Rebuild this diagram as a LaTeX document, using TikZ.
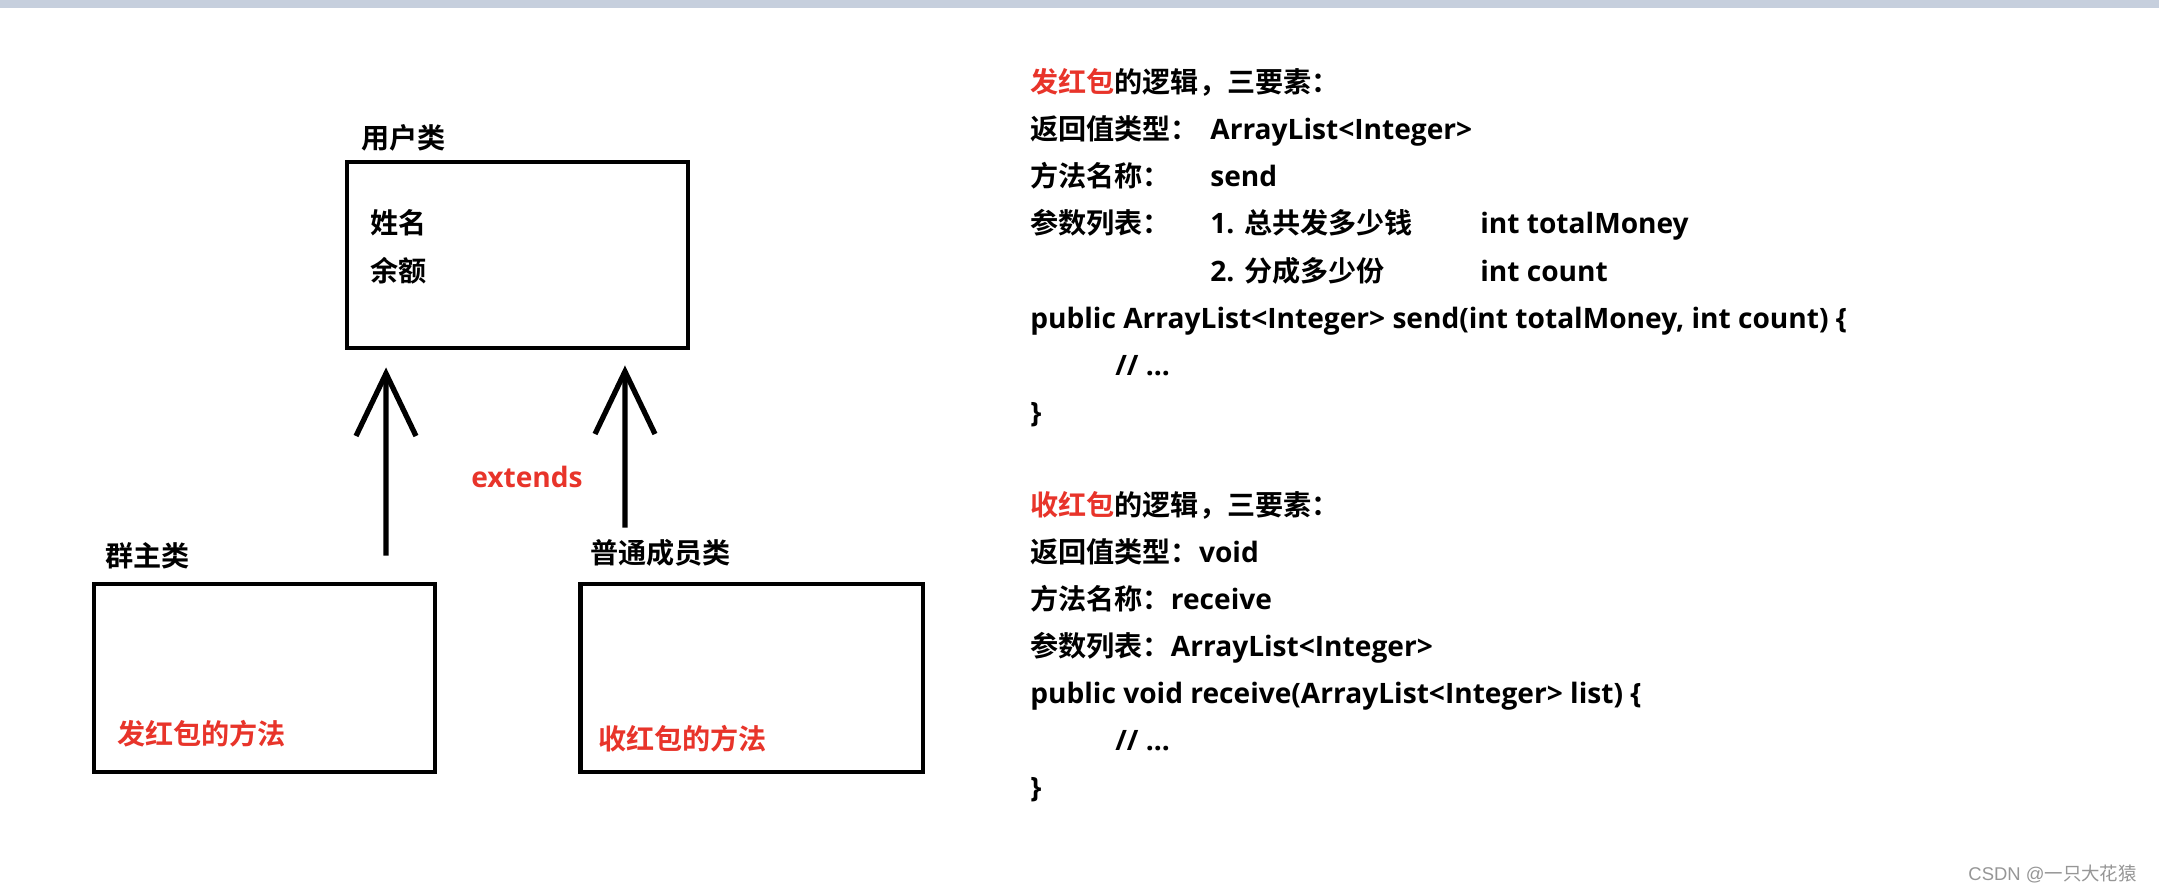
\documentclass[tikz,border=0pt]{standalone}
\usepackage{fontspec}
\setmainfont{Open Sans}
\newfontfamily\zhfont{Noto Sans CJK SC}[BoldFont={Noto Sans CJK SC Bold}]
\newfontfamily\wmfont{Liberation Sans}
\usetikzlibrary{positioning,arrows.meta}

\definecolor{hongred}{RGB}{232,52,42}
\definecolor{topband}{RGB}{198,207,221}
\definecolor{markgray}{RGB}{150,150,150}
\newcommand{\zh}[1]{{\zhfont #1}}

\tikzset{
  classbox/.style={draw, line width=2.8pt, inner sep=0pt},
  classname/.style={anchor=base west, inner sep=0pt},
  extarrow/.style={line width=3pt, -{Straight Barb[length=1.25cm, width=1.2cm]}},
  codeline/.style={anchor=base west, inner sep=0pt}
}

\begin{document}
\begin{tikzpicture}[x=0.02cm, y=-0.02cm, font=\fontsize{16pt}{19pt}\selectfont\bfseries]

\fill[white] (0,0) rectangle (2159,895);
\fill[topband] (0,0) rectangle (2159,8);
\useasboundingbox (0,0) rectangle (2159,895);

\node[classbox, minimum width=6.82cm, minimum height=3.72cm] (user) at (517.5, 255) {};
\node[classbox, minimum width=6.82cm, minimum height=3.76cm] (leader) at (264.5, 678) {};
\node[classbox, minimum width=6.86cm, minimum height=3.76cm] (member) at (751.5, 678) {};

\node[classname] (usertitle) at (361, 149) {\zh{用户类}};
\node[classname] (name) at (370, 234) {\zh{姓名}};
\node[classname] (balance) at (370, 281) {\zh{余额}};
\node[classname] (leadertitle) at (105, 566) {\zh{群主类}};
\node[classname] (membertitle) at (590, 563) {\zh{普通成员类}};
\node[classname, hongred] (sendmethod) at (117, 744) {\zh{发红包的方法}};
\node[classname, hongred] (recvmethod) at (598, 749) {\zh{收红包的方法}};

\draw[extarrow] ([xshift=2.43cm, yshift=0.52cm]leader.north) -- ([xshift=-2.63cm, yshift=-0.34cm]user.south);
\draw[extarrow] ([xshift=-2.53cm, yshift=1.08cm]member.north) -- ([xshift=2.15cm, yshift=-0.3cm]user.south);
\node[hongred] (extends) at (527, 477) {extends};

\def\x{1030}
\def\y{93}

\node[codeline] (s1) at (\x + 0, \y + 0) {\zh{\textcolor{hongred}{发红包}的逻辑，三要素：}};
\node[codeline] (s2) at (\x + 0, \y + 47) {\zh{返回值类型：}};
\node[codeline] (s2v) at (\x + 180, \y + 47) {ArrayList<Integer>};
\node[codeline] (s3) at (\x + 0, \y + 94) {\zh{方法名称：}};
\node[codeline] (s3v) at (\x + 180, \y + 94) {send};
\node[codeline] (s4) at (\x + 0, \y + 141) {\zh{参数列表：}};
\node[codeline] (s4a) at (\x + 180, \y + 141) {1. \zh{总共发多少钱}};
\node[codeline] (s4b) at (\x + 450, \y + 141) {int totalMoney};
\node[codeline] (s5a) at (\x + 180, \y + 188) {2. \zh{分成多少份}};
\node[codeline] (s5b) at (\x + 450, \y + 188) {int count};
\node[codeline] (s6) at (\x + 0, \y + 235) {public ArrayList<Integer> send(int totalMoney, int count) \{};
\node[codeline] (s7) at (\x + 85, \y + 282) {// ...};
\node[codeline] (s8) at (\x + 0, \y + 329) {\}};

\def\y{515}

\node[codeline] (r1) at (\x + 0, \y + 0) {\zh{\textcolor{hongred}{收红包}的逻辑，三要素：}};
\node[codeline] (r2) at (\x + 0, \y + 47) {\zh{返回值类型：}void};
\node[codeline] (r3) at (\x + 0, \y + 94) {\zh{方法名称：}receive};
\node[codeline] (r4) at (\x + 0, \y + 141) {\zh{参数列表：}ArrayList<Integer>};
\node[codeline] (r5) at (\x + 0, \y + 188) {public void receive(ArrayList<Integer> list) \{};
\node[codeline] (r6) at (\x + 85, \y + 235) {// ...};
\node[codeline] (r7) at (\x + 0, \y + 282) {\}};

\node[markgray, anchor=east, font=\fontsize{10.5pt}{12pt}\selectfont\mdseries] (mark) at (2143, 874) {\wmfont CSDN @\zhfont 一只大花猿};

\end{tikzpicture}
\end{document}
